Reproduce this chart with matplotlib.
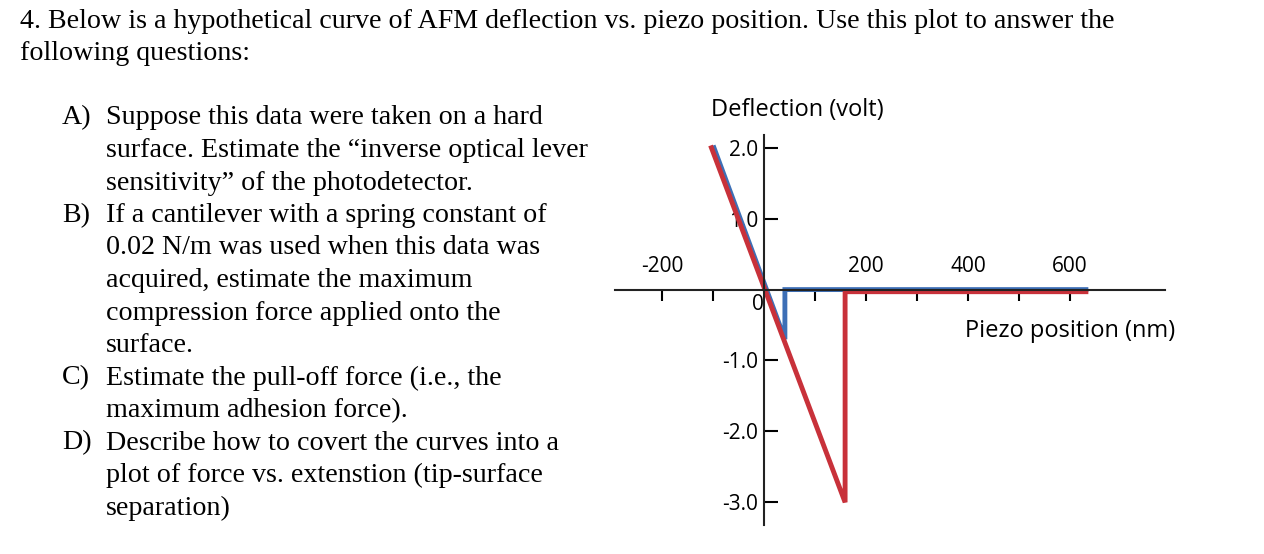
import matplotlib.pyplot as plt

# curves (nm, volt)
approach_x = [-98, 41, 41, 631]
approach_y = [2.0, -0.7, 0.0, 0.0]
retract_x = [-103, 159, 159, 631]
retract_y = [2.0, -3.0, -0.03, -0.03]

major_x = [-200, 200, 400, 600]
major_x_labels = ['-200', '200', '400', '600']
minor_x = [-100, 100, 300, 500]
y_ticks = [2.0, 1.0, -1.0, -2.0, -3.0]
y_labels = ['2.0', '1.0', '-1.0', '-2.0', '-3.0']

heading = ['4. Below is a hypothetical curve of AFM deflection vs. piezo position. Use this plot to answer the',
           'following questions:']
items = [('A)', ['Suppose this data were taken on a hard',
                 'surface. Estimate the \u201cinverse optical lever',
                 'sensitivity\u201d of the photodetector.']),
         ('B)', ['If a cantilever with a spring constant of',
                 '0.02 N/m was used when this data was',
                 'acquired, estimate the maximum',
                 'compression force applied onto the',
                 'surface.']),
         ('C)', ['Estimate the pull-off force (i.e., the',
                 'maximum adhesion force).']),
         ('D)', ['Describe how to covert the curves into a',
                 'plot of force vs. extenstion (tip-surface',
                 'separation)'])]

W, H = 1264, 554
fig = plt.figure(figsize=(W / 100, H / 100), dpi=100)

serif = dict(family='Liberation Serif', fontsize=20.2, va='center')
for i, line in enumerate(heading):
    fig.text(20 / W, 1 - (21 + 32 * i) / H, line, **serif)
row = 0
for tag, lines in items:
    fig.text(62 / W, 1 - (118 + 32.5 * row) / H, tag, **serif)
    for line in lines:
        fig.text(106 / W, 1 - (118 + 32.5 * row) / H, line, **serif)
        row += 1

# axes spans 615..1165 px horizontally, 135..525 px vertically
ax = fig.add_axes([615 / W, 1 - 525 / H, 550 / W, 390 / H])
ax.set_xlim(-292, 786)
ax.set_ylim(-3.32, 2.18)
ax.plot(approach_x, approach_y, color='#3d6fb6', lw=3.5, solid_joinstyle='miter')
ax.plot(retract_x, retract_y, color='#c8313a', lw=3.5, solid_joinstyle='miter')

for s in ['left', 'bottom', 'top']:
    ax.spines[s].set_position(('data', 0))
ax.spines['right'].set_visible(False)
ax.spines['top'].set_visible(False)
for s in ['left', 'bottom']:
    ax.spines[s].set_color('#222222')
    ax.spines[s].set_linewidth(1.5)

sans = 'Open Sans'
ax.set_xticks(major_x)
ax.set_xticklabels(major_x_labels, family=sans, fontsize=15)
ax.set_xticks(minor_x, minor=True)
ax.tick_params(axis='x', which='both', direction='out', length=8, width=1.5,
               bottom=True, top=False, labelbottom=False, labeltop=True, pad=1)
ax.set_yticks(y_ticks)
ax.set_yticklabels(y_labels, family=sans, fontsize=15)
ax.tick_params(axis='y', direction='in', length=10, width=1.5, pad=4)

ax.text(-12, -0.06, '0', ha='center', va='top', family=sans, fontsize=15)
fig.text(797 / W, 1 - 110 / H, 'Deflection (volt)', ha='center', va='center', family=sans, fontsize=17)
fig.text(1070 / W, 1 - 331 / H, 'Piezo position (nm)', ha='center', va='center', family=sans, fontsize=17)

fig.savefig('out.png', dpi=100)
